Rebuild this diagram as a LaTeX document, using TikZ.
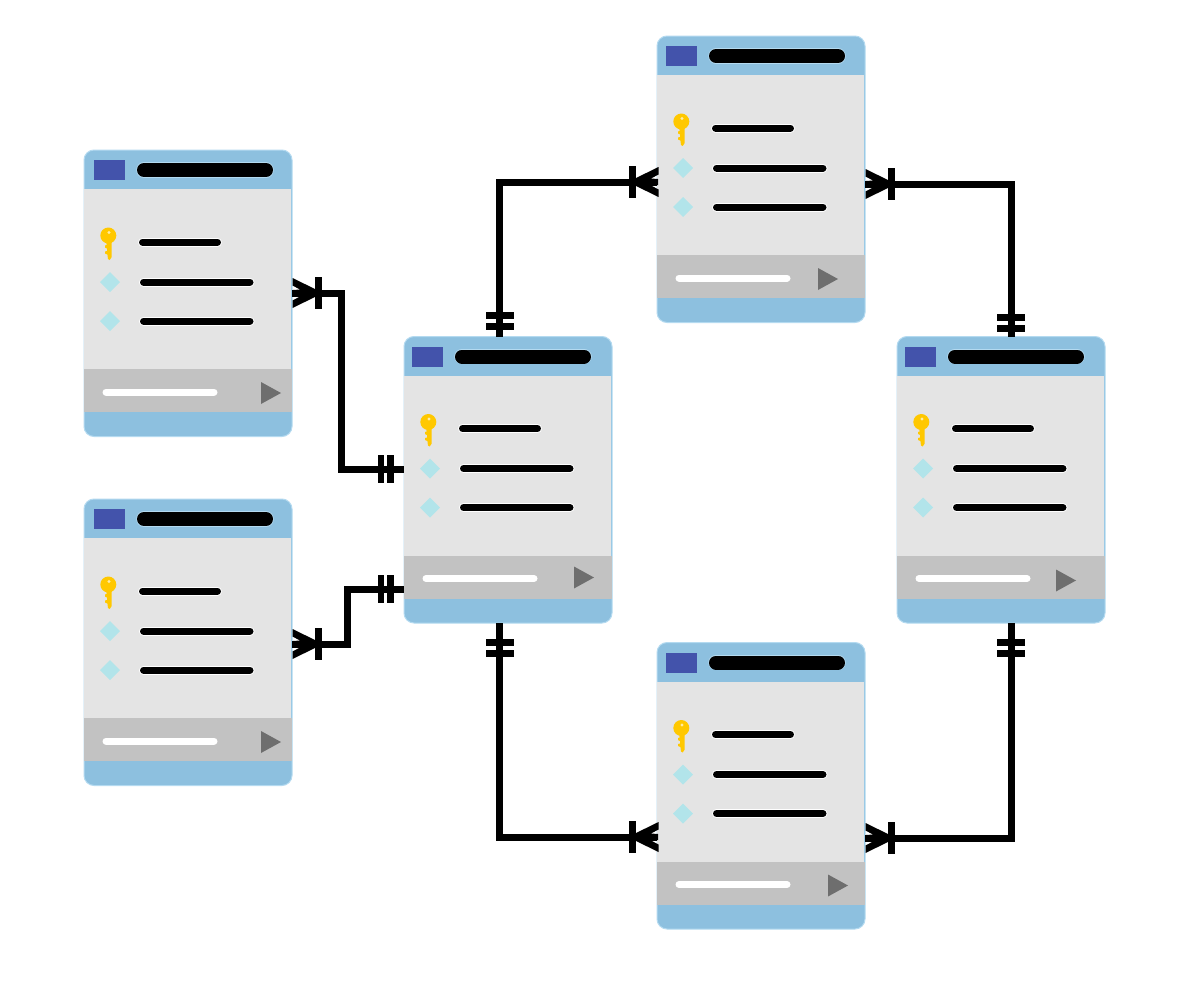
\documentclass[tikz,border=0pt]{standalone}
\definecolor{hdrblue}{HTML}{8DC0DF}
\definecolor{edgeblue}{HTML}{B4DAF0}
\definecolor{squareblue}{HTML}{4353AB}
\definecolor{bodygray}{HTML}{E4E4E4}
\definecolor{footgray}{HTML}{C2C2C2}
\definecolor{arrowgray}{HTML}{6E6E6E}
\definecolor{diamondblue}{HTML}{B2E4EA}
\definecolor{keygold}{HTML}{FFC800}
\tikzset{
  cardframe/.style={rectangle,inner sep=0pt,minimum width=208pt,minimum height=286.5pt,anchor=north west},
  link/.style={line width=7pt,black,line join=miter},
  halo/.style={line width=9pt,white,line cap=round},
  pill/.style={line width=7pt,black,line cap=round},
}
% #1 name, #2 x, #3 y, #4 arrow left x (relative), #5 arrow centre y (relative), #6 header content shift
\newcommand{\tablecard}[6]{%
  \node[cardframe] (#1) at (#2,#3) {};
  \begin{scope}[shift={(#2,#3)}]
    \fill[hdrblue,draw=edgeblue,line width=1pt,rounded corners=10pt] (0,0) rectangle (208,286.5);
    \fill[bodygray] (0,39) rectangle (206.5,219);
    \fill[footgray] (0,219) rectangle (208,262);
    \fill[squareblue] (10+#6,10) rectangle (41+#6,30);
    \draw[line width=15.5pt,edgeblue,line cap=round] (60+#6,20) -- (182+#6,20);
    \draw[line width=14pt,black,line cap=round] (60+#6,20) -- (182+#6,20);
    \foreach \ya/\xa/\xb in {92/58.5/133.5,132/59.5/166,171/59.5/166}{
      \draw[halo] (\xa,\ya) -- (\xb,\ya);
      \draw[pill] (\xa,\ya) -- (\xb,\ya);
    }
    \foreach \ya in {132,171}{
      \fill[diamondblue] (26,\ya-10) -- (36,\ya) -- (26,\ya+10) -- (16,\ya) -- cycle;
    }
    % key
    \fill[keygold] (24.3,85.5) circle (8pt);
    \fill[keygold] (22,90) -- (27.7,90) -- (27.7,107) -- (25.7,110) -- (24,109) -- (23.4,104.5) -- (21,103.5) -- (21,101.5) -- (23,101) -- (23,98.5) -- (21,97.5) -- (21,95.5) -- (22.6,95) -- cycle;
    \fill[white!65!keygold] (25,82.5) circle (1.7pt);
    % footer
    \draw[line width=7pt,white,line cap=round] (22,242) -- (130,242);
    \fill[arrowgray] (#4,#5-11) -- (#4+20,#5) -- (#4,#5+11) -- cycle;
  \end{scope}
}
% crow's foot with bar: #1 x of card edge, #2 y, #3 direction (+1 away to the right, -1 to the left)
\newcommand{\crowfoot}[3]{%
  \begin{scope}[shift={(#1,#2)},xscale=#3]
    \fill[black] (0.5,-15) -- (25,-3) -- (25,3) -- (0.5,15) -- (0.5,7.5) -- (8,3.5) -- (1,3) -- (1,-3) -- (8,-3.5) -- (0.5,-7.5) -- cycle;
    \fill[black] (23,-16) rectangle (30,16);
  \end{scope}
}
\newcommand{\twobarsh}[2]{%
  \fill[black] (#1-8,#2-14) rectangle (#1-1.8,#2+14);
  \fill[black] (#1+1.8,#2-14) rectangle (#1+8,#2+14);
}
\newcommand{\twobarsv}[2]{%
  \fill[black] (#1-14,#2-9) rectangle (#1+14,#2-1.8);
  \fill[black] (#1-14,#2+1.8) rectangle (#1+14,#2+9);
}
\begin{document}
\begin{tikzpicture}[x=1pt,y=-1pt]
  \useasboundingbox (0,0) rectangle (1200,993);
  \fill[white] (0,0) rectangle (1200,993);
  \tablecard{cardA}{84}{150}{177}{243}{0}
  \tablecard{cardB}{84}{499}{177}{243}{0}
  \tablecard{cardC}{404}{336.5}{170}{241}{-2}
  \tablecard{cardD}{657}{36}{161}{243}{-1}
  \tablecard{cardE}{897}{336.5}{159}{244}{-2}
  \tablecard{cardF}{657}{642.5}{171}{243}{-1}

  \coordinate (a1) at (cardA.east |- 0,293);
  \coordinate (c1) at (cardC.west |- 0,469);
  \coordinate (b1) at (cardB.east |- 0,644);
  \coordinate (c2) at (cardC.west |- 0,589);
  \coordinate (c3) at (499.5,0 |- cardC.north);
  \coordinate (d1) at (cardD.west |- 0,182);
  \coordinate (d2) at (cardD.east |- 0,184);
  \coordinate (e1) at (1011,0 |- cardE.north);
  \coordinate (c4) at (499.5,0 |- cardC.south);
  \coordinate (f1) at (cardF.west |- 0,837);
  \coordinate (e2) at (1011,0 |- cardE.south);
  \coordinate (f2) at (cardF.east |- 0,838);

  \draw[link] (a1) -- (341,293) -- (341,469) -- (c1);
  \draw[link] (b1) -- (347,644) -- (347,589) -- (c2);
  \draw[link] (c3) -- (499.5,182) -- (d1);
  \draw[link] (d2) -- (1011,184) -- (e1);
  \draw[link] (c4) -- (499.5,837) -- (f1);
  \draw[link] (e2) -- (1011,838) -- (f2);

  \crowfoot{292}{293}{1}
  \crowfoot{292}{644}{1}
  \crowfoot{865}{184}{1}
  \crowfoot{865}{838}{1}
  \crowfoot{659}{182}{-1}
  \crowfoot{659}{837}{-1}
  \twobarsh{385.5}{469}
  \twobarsh{385.5}{589}
  \twobarsv{499.5}{321}
  \twobarsv{499.5}{648}
  \twobarsv{1011}{323}
  \twobarsv{1011}{648}
\end{tikzpicture}
\end{document}
